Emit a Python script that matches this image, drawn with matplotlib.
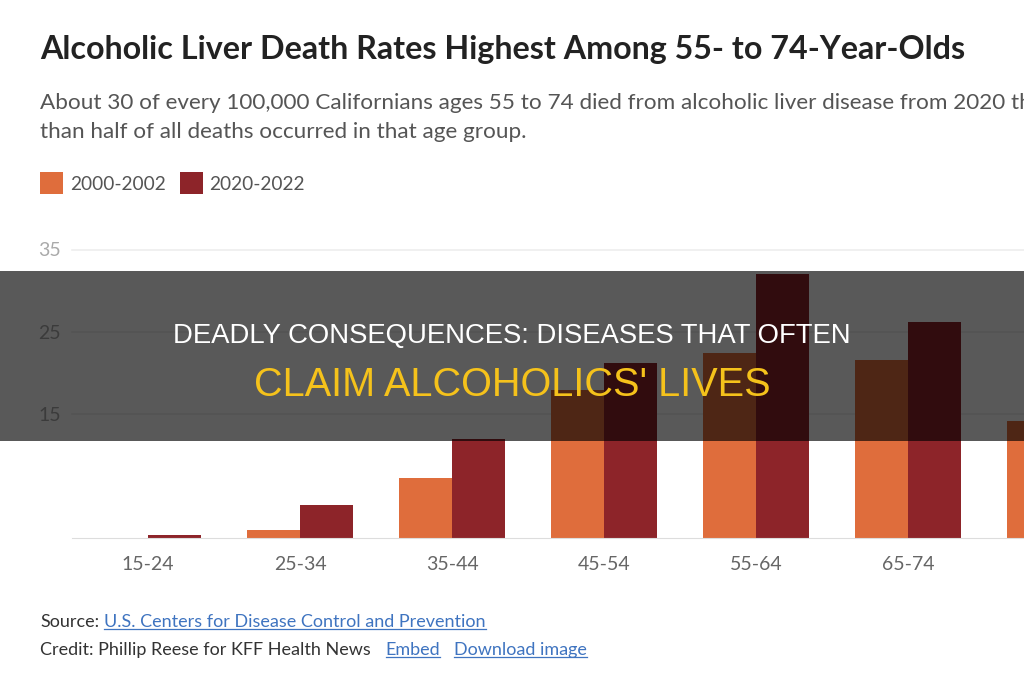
import numpy as np
import matplotlib
matplotlib.use("Agg")
import matplotlib.pyplot as plt
from matplotlib.patches import Rectangle
from matplotlib.lines import Line2D

# --- data ---
age_groups = ["15-24", "25-34", "35-44", "45-54", "55-64", "65-74", "75-84"]
rate_2000_2002 = [0.0, 0.9, 7.2, 17.9, 22.4, 21.6, 14.2]
rate_2020_2022 = [0.3, 3.9, 12.0, 21.2, 32.0, 26.2, np.nan]  # last one is cut off in the picture
series_labels = ["2000-2002", "2020-2022"]
y_ticks = [15, 25, 35]

ORANGE = "#df6d3c"
DARKRED = "#8d2429"
LINK = "#3f74c0"
W, H = 1024, 680

plt.rcParams["font.family"] = ["Lato", "DejaVu Sans"]
fig = plt.figure(figsize=(W / 100, H / 100), dpi=100)
fig.patch.set_facecolor("white")


def px(x, y):
    return x / W, 1 - y / H


# --- header ---
fig.text(*px(40, 59), "Alcoholic Liver Death Rates Highest Among 55- to 74-Year-Olds",
         fontsize=23.2, fontweight="bold", color="#222222", va="baseline")
fig.text(*px(40, 109),
         "About 30 of every 100,000 Californians ages 55 to 74 died from alcoholic liver "
         "disease from 2020 through 2022. More",
         fontsize=16.2, color="#555555", va="baseline")
fig.text(*px(40, 138), "than half of all deaths occurred in that age group.",
         fontsize=16.2, color="#555555", va="baseline")

# legend swatches
for (sx, tx), lab, col in zip([(40, 70), (180, 209)], series_labels, [ORANGE, DARKRED]):
    x0, y0 = px(sx, 194)
    fig.add_artist(Rectangle((x0, y0), 23 / W, 22 / H, transform=fig.transFigure,
                             facecolor=col, edgecolor="none"))
    fig.text(*px(tx, 190), lab, fontsize=13.8, color="#555555", va="baseline")

# --- bar chart ---
ax = fig.add_axes([72 / W, 1 - 537.5 / H, (W - 72) / W, 288 / H])
x = np.arange(len(age_groups))
bw = 0.347
ax.bar(x - bw / 2, rate_2000_2002, width=bw, color=ORANGE, zorder=2)
ax.bar(x + bw / 2, rate_2020_2022, width=bw, color=DARKRED, zorder=2)

ax.set_xticks(x)
ax.set_xticklabels(age_groups)
ax.set_yticks(y_ticks)
ax.set_xlim(-0.5, 5.763)
ax.set_ylim(0, 35)
ax.tick_params(axis="x", length=0, pad=13, labelsize=14, labelcolor="#666666")
ax.tick_params(axis="y", length=0, pad=8, labelsize=14, labelcolor="#aaaaaa")
for s in ["top", "right", "left"]:
    ax.spines[s].set_visible(False)
ax.spines["bottom"].set_color("#dddddd")
ax.grid(axis="y", color="#eeeeee", linewidth=1.2, zorder=0)
for gl in ax.get_ygridlines():
    gl.set_clip_on(False)
ax.set_axisbelow(True)

# --- footer ---
renderer = fig.canvas.get_renderer()


def chain(xpix, ypix, parts, size=13):
    for s, color, link, gap in parts:
        t = fig.text(*px(xpix, ypix), s, fontsize=size, color=color, va="baseline")
        bb = t.get_window_extent(renderer=renderer)
        if link:
            uy = 1 - (ypix + 2) / H
            fig.add_artist(Line2D([bb.x0 / W, bb.x1 / W], [uy, uy], transform=fig.transFigure,
                                  color=color, linewidth=0.9))
        xpix = bb.x1 + gap


chain(40, 627, [("Source:", "#333333", False, 5),
                ("U.S. Centers for Disease Control and Prevention", LINK, True, 0)])
chain(40, 655, [("Credit: Phillip Reese for KFF Health News", "#333333", False, 15),
                ("Embed", LINK, True, 14),
                ("Download image", LINK, True, 0)])

# --- dark banner overlay ---
bx, by = px(0, 441)
fig.add_artist(Rectangle((bx, by), 1, 170 / H, transform=fig.transFigure,
                         facecolor="black", alpha=0.65, edgecolor="none", zorder=5))
fig.text(0.5, 1 - 343 / H, "DEADLY CONSEQUENCES: DISEASES THAT OFTEN",
         family=["Liberation Sans", "DejaVu Sans"], fontsize=19.8, color="white",
         ha="center", va="baseline", zorder=6)
fig.text(0.5, 1 - 396 / H, "CLAIM ALCOHOLICS' LIVES",
         family=["Liberation Sans", "DejaVu Sans"], fontsize=28.5, color="#f5c21b",
         ha="center", va="baseline", zorder=6)

fig.savefig("out.png", dpi=100, facecolor="white")
